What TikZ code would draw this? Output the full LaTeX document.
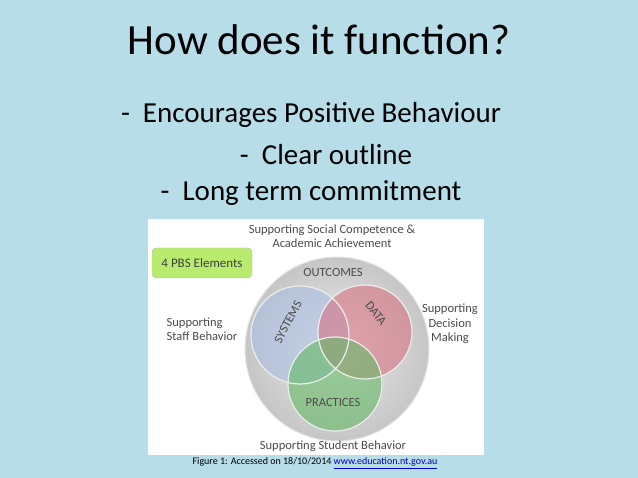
\documentclass[tikz,border=0pt]{standalone}
\usepackage{fontspec}
\setmainfont{Carlito}
\begin{document}
\begin{tikzpicture}[x=1pt,y=-1pt,
 lbl/.style={text=black!70,font=\fontsize{12.5}{14.5}\selectfont,align=center,inner sep=0},
 venn/.style={fill opacity=0.6}]
\fill[fill={rgb,255:red,183;green,221;blue,232}] (0,0) rectangle (638,478);
\node[font=\fontsize{43}{46}\selectfont] (title) at (319,40) {How does it function?};
\node[font=\fontsize{29}{32}\selectfont] (b1) at (311,115) {-\ \ Encourages Positive Behaviour};
\node[font=\fontsize{29}{32}\selectfont] (b2) at (326,155) {-\ \ Clear outline};
\node[font=\fontsize{29}{32}\selectfont] (b3) at (311,193) {-\ \ Long term commitment};
\fill[white] (148,219) rectangle (484,455);
\shade[inner color=gray!15,outer color=gray!45] (337,349) circle (92);
\draw[white!80!gray,line width=1pt] (337,349) circle (92);
\fill[venn,fill={rgb,255:red,170;green,190;blue,225}] (300,335) circle (49);
\fill[venn,fill={rgb,255:red,215;green,115;blue,130}] (365,332) circle (47);
\fill[venn,fill={rgb,255:red,100;green,185;blue,100}] (335,384) circle (47);
\draw[white!85!gray,line width=1.2pt] (300,335) circle (49) (365,332) circle (47) (335,384) circle (47);
\node[draw=gray!50,fill={rgb,255:red,185;green,235;blue,110},rounded corners=4pt,minimum width=100pt,minimum height=30pt,font=\fontsize{13}{15}\selectfont,text=black!75] (pbs) at (202,263) {4 PBS Elements};
\node[lbl] (top) at (332,236) {Supporting Social Competence \&\\Academic Achievement};
\node[lbl] (out) at (333,272) {OUTCOMES};
\node[lbl,rotate=62] (sys) at (288,322) {SYSTEMS};
\node[lbl,rotate=-52] (dat) at (376,313) {DATA};
\node[lbl] (pra) at (333,402) {PRACTICES};
\node[lbl,align=left] (staff) at (202,329) {Supporting\\Staff Behavior};
\node[lbl] (dec) at (450,324) {Supporting\\Decision\\Making};
\node[lbl] (stu) at (333,446) {Supporting Student Behavior};
\node[font=\fontsize{10}{12}\selectfont,inner sep=0] (cap) at (315,463) {Figure 1: Accessed on 18/10/2014 \textcolor{blue!80!black}{\underline{www.education.nt.gov.au}}};
\end{tikzpicture}
\end{document}
